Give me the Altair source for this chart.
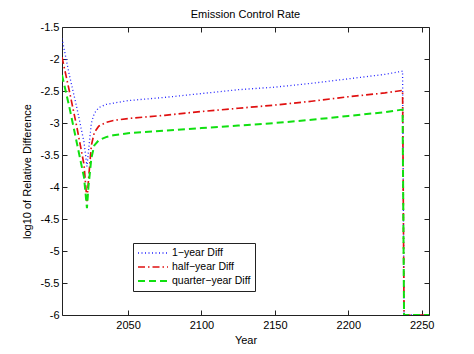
import altair as alt
import pandas as pd

years = [2005, 2010, 2015, 2020, 2022, 2023, 2025, 2027, 2030, 2035, 2040, 2050,
         2075, 2100, 2125, 2150, 2175, 2200, 2225, 2237, 2238, 2255]
one_year = [-1.68, -2.25, -2.75, -3.3, -3.68, -3.45, -3.0, -2.85, -2.76, -2.71, -2.69, -2.65,
            -2.6, -2.54, -2.48, -2.44, -2.38, -2.31, -2.24, -2.19, -6.0, -6.0]
half_year = [-1.97, -2.5, -3.05, -3.65, -4.22, -3.9, -3.35, -3.15, -3.05, -2.99, -2.96, -2.93,
             -2.88, -2.82, -2.77, -2.72, -2.66, -2.59, -2.53, -2.49, -6.0, -6.0]
quarter_year = [-2.25, -2.75, -3.3, -3.85, -4.33, -4.0, -3.55, -3.35, -3.27, -3.22, -3.19, -3.16,
                -3.12, -3.08, -3.04, -3.0, -2.95, -2.89, -2.83, -2.79, -6.0, -6.0]

series_names = ["1\u2212year Diff", "half\u2212year Diff", "quarter\u2212year Diff"]
series_colors = ["#2020ff", "#e01010", "#10e010"]
series_dash = [[1, 2.5], [7, 3, 1.5, 3], [7, 4]]
series_width = [1.3, 2, 2]

x_ticks = [2050, 2100, 2150, 2200, 2250]
y_ticks = [-6, -5.5, -5, -4.5, -4, -3.5, -3, -2.5, -2, -1.5]

rows = []
for name, vals in zip(series_names, [one_year, half_year, quarter_year]):
    for yr, v in zip(years, vals):
        rows.append({"Year": yr, "Value": v, "Series": name})
df = pd.DataFrame(rows)

FONT = "Liberation Sans"
xscale = alt.Scale(domain=[2005, 2255], nice=False, zero=False)
yscale = alt.Scale(domain=[-6, -1.5], nice=False, zero=False)

leg = alt.Legend(title=None, orient="none", legendX=71, legendY=216,
                 strokeColor="#222", fillColor="white", padding=4,
                 symbolType="stroke", symbolSize=900, symbolStrokeWidth=2,
                 labelFont=FONT, labelFontSize=10.5, labelColor="black",
                 clipHeight=12, rowPadding=2, labelOffset=3, cornerRadius=0)

lines = alt.Chart(df).mark_line(clip=True).encode(
    x=alt.X("Year:Q", scale=xscale,
            axis=alt.Axis(values=x_ticks, orient="bottom", offset=-5, tickSize=5,
                          domain=False, grid=False, labelPadding=4, title="Year",
                          titlePadding=4, format="d")),
    y=alt.Y("Value:Q", scale=yscale,
            axis=alt.Axis(values=y_ticks, orient="left", offset=-5, tickSize=5,
                          domain=False, grid=False, labelPadding=3,
                          title="log10 of Relative Difference", titlePadding=8,
                          labelExpr="'' + datum.value")),
    color=alt.Color("Series:N", scale=alt.Scale(domain=series_names, range=series_colors), legend=leg),
    strokeDash=alt.StrokeDash("Series:N", scale=alt.Scale(domain=series_names, range=series_dash), legend=leg),
    strokeWidth=alt.StrokeWidth("Series:N", scale=alt.Scale(domain=series_names, range=series_width), legend=None),
)

frame = alt.Chart(df).mark_line(opacity=0).encode(
    x=alt.X("Year:Q", scale=xscale,
            axis=alt.Axis(values=x_ticks, orient="top", offset=-5, tickSize=5,
                          domain=False, grid=False, labels=False, title=None)),
    y=alt.Y("Value:Q", scale=yscale,
            axis=alt.Axis(values=y_ticks, orient="right", offset=-5, tickSize=5,
                          domain=False, grid=False, labels=False, title=None)),
    detail="Series:N",
)

chart = alt.layer(lines, frame).resolve_axis(x="independent", y="independent").properties(
    width=367, height=288,
    title=alt.TitleParams("Emission Control Rate", font=FONT, fontSize=11, fontWeight="normal",
                          color="black", offset=1),
    autosize=alt.AutoSizeParams(type="none"),
    padding={"left": 62, "top": 27, "right": 45, "bottom": 39},
).configure_view(stroke="#222", strokeWidth=1).configure_axis(
    labelFont=FONT, labelFontSize=11, labelColor="black", titleFont=FONT, titleFontSize=11,
    titleFontWeight="normal", titleColor="black", tickColor="#222", tickWidth=1,
)

chart.save("out.html", embed_options={"renderer": "svg", "actions": False})
